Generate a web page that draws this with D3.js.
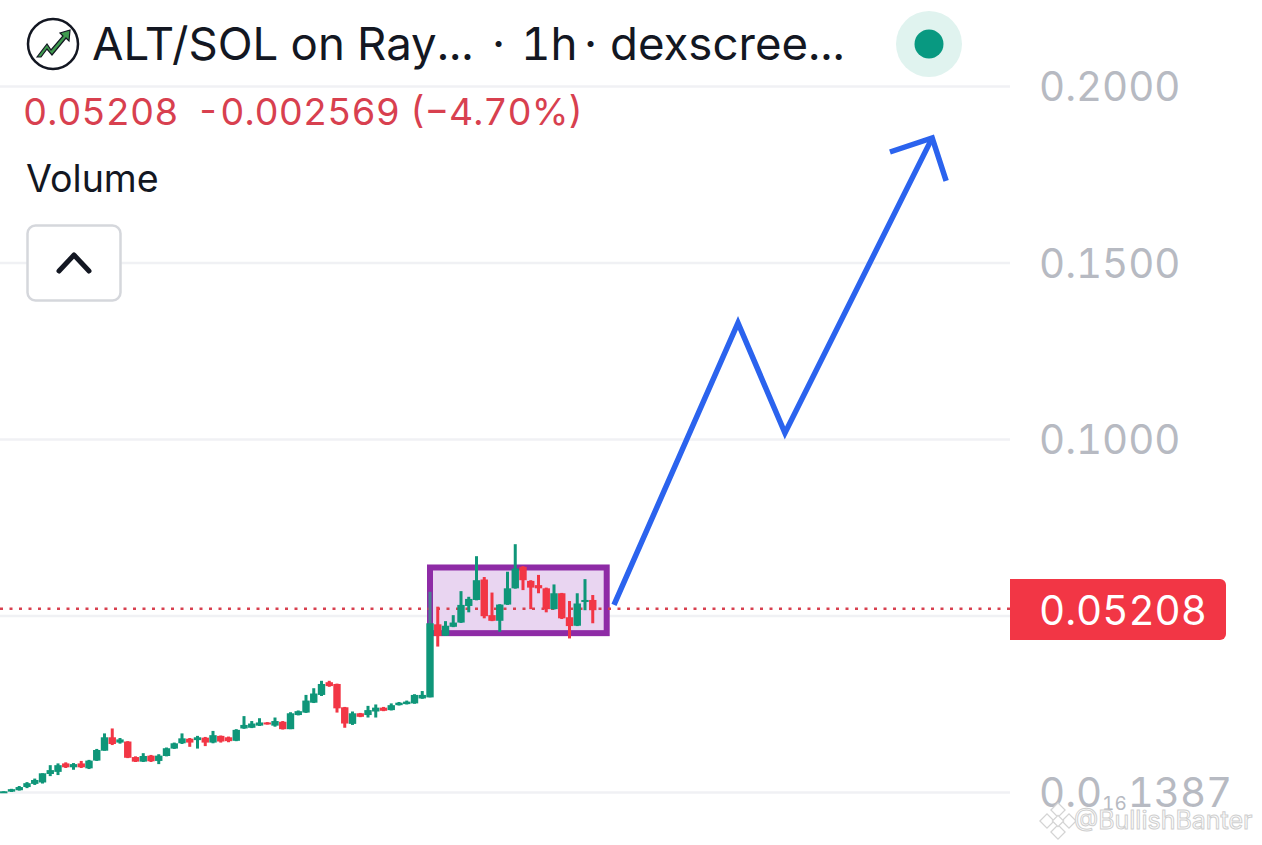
<!DOCTYPE html>
<html>
<head>
<meta charset="utf-8">
<script src="https://cdn.jsdelivr.net/npm/d3@7"></script>
<style>
  html, body { margin: 0; padding: 0; background: #fff; }
  svg { display: block; }
  text { font-family: Inter, "Noto Sans", sans-serif; font-variant-numeric: tabular-nums; }
</style>
</head>
<body>
<svg id="chart"></svg>
<script>
// Candles
const opens = [.0000,.0001,.0005,.0014,.0023,.0027,.0051,.0057,.0081,.0070,.0081,.0067,.0089,.0117,.0155,.0140,.0143,.0099,.0086,.0103,.0088,.0102,.0123,.0138,.0151,.0147,.0154,.0140,.0159,.0155,.0145,.0180,.0182,.0188,.0197,.0188,.0199,.0178,.0218,.0225,.0253,.0275,.0311,.0306,.0240,.0193,.0223,.0218,.0228,.0239,.0232,.0246,.0249,.0251,.0265,.0268,.0475,.0443,.0468,.0480,.0527,.0544,.0602,.0501,.0485,.0531,.0577,.0638,.0598,.0586,.0577,.0518,.0563,.0495,.0471,.0539,.0544];
const closes = [.0002,.0008,.0014,.0025,.0034,.0053,.0062,.0076,.0070,.0079,.0070,.0089,.0119,.0155,.0136,.0149,.0097,.0086,.0102,.0087,.0103,.0124,.0138,.0152,.0140,.0155,.0140,.0161,.0143,.0144,.0176,.0190,.0194,.0197,.0192,.0201,.0178,.0223,.0229,.0259,.0279,.0306,.0300,.0237,.0194,.0223,.0213,.0232,.0239,.0230,.0246,.0253,.0256,.0275,.0275,.0478,.0442,.0471,.0480,.0530,.0547,.0600,.0498,.0485,.0531,.0577,.0633,.0600,.0579,.0577,.0518,.0563,.0492,.0470,.0534,.0544,.0515];
const highs = [.0002,.0009,.0017,.0028,.0038,.0053,.0076,.0081,.0084,.0082,.0088,.0091,.0122,.0166,.0180,.0153,.0144,.0101,.0110,.0105,.0107,.0126,.0140,.0166,.0153,.0159,.0156,.0173,.0160,.0157,.0178,.0215,.0201,.0209,.0198,.0211,.0201,.0226,.0231,.0275,.0294,.0315,.0315,.0307,.0241,.0228,.0224,.0244,.0248,.0241,.0251,.0255,.0259,.0277,.0286,.0567,.0525,.0484,.0501,.0569,.0553,.0668,.0609,.0565,.0532,.0624,.0702,.0640,.0600,.0615,.0579,.0588,.0564,.0541,.0563,.0603,.0558];
const lows = [.0000,.0000,.0004,.0011,.0020,.0024,.0045,.0048,.0068,.0063,.0068,.0065,.0088,.0117,.0133,.0137,.0096,.0085,.0085,.0085,.0079,.0101,.0122,.0136,.0128,.0123,.0130,.0138,.0140,.0141,.0144,.0179,.0181,.0187,.0191,.0185,.0177,.0178,.0217,.0224,.0252,.0272,.0298,.0225,.0182,.0190,.0212,.0211,.0211,.0229,.0231,.0245,.0248,.0250,.0264,.0268,.0412,.0442,.0467,.0479,.0509,.0543,.0492,.0484,.0454,.0530,.0576,.0572,.0518,.0563,.0509,.0517,.0490,.0435,.0470,.0515,.0478];

// Axis
const tickValues = [0, 0.05, 0.1, 0.15, 0.2];
const tickLabels = ['', '', '0.1000', '0.1500', '0.2000'];
const lastPrice = 0.05208;
const lastPriceLabel = '0.05208';

// Annotations: consolidation box and projected path (candle index, price)
const boxIndex = [55, 77.8];
const boxPrice = [0.0450, 0.0636];
const pathIndex = [78.74, 94.74, 100.8, 119.8];
const pathPrice = [0.0530, 0.1329, 0.1017, 0.1853];
const headIndex = [114.35, 119.8, 121.6];
const headPrice = [0.1813, 0.1853, 0.1731];

const width = 1262, height = 845, plotRight = 1010;
const UP = '#0f9679', DOWN = '#f23645';

const svg = d3.select('#chart').attr('width', width).attr('height', height);

const x = d3.scaleLinear().domain([55, 76]).range([430, 592.75]);
const y = d3.scaleLinear().domain([0, 0.2]).range([792, 86]);

// Grid lines and price labels
const axis = d3.axisRight(y)
  .tickValues(tickValues)
  .tickSize(plotRight)
  .tickPadding(29)
  .tickFormat((d, i) => tickLabels[i]);

const axisG = svg.append('g').call(axis);
axisG.select('.domain').remove();
axisG.selectAll('line').attr('stroke', '#f0f1f4').attr('stroke-width', 2.5);
axisG.selectAll('text')
  .attr('fill', '#b7bac2')
  .attr('dy', '0.36em')
  .style('font-size', '40.3px')
  .style('font-family', 'Inter, sans-serif');

// Tick at the bottom has a subscript zero count
const zero = svg.append('text')
  .attr('x', 1039).attr('y', y(0) + 15)
  .attr('fill', '#b7bac2').style('font-size', '40.3px');
zero.append('tspan').text('0.0');
zero.append('tspan').attr('dy', 3).style('font-size', '19px').text('16');
zero.append('tspan').attr('dx', 1).attr('dy', -3).text('1387');

// Box, under the candles
const box = {
  x: x(boxIndex[0]), y: y(boxPrice[1]),
  w: x(boxIndex[1]) - x(boxIndex[0]), h: y(boxPrice[0]) - y(boxPrice[1])
};
svg.append('rect')
  .attr('x', box.x).attr('y', box.y).attr('width', box.w).attr('height', box.h)
  .attr('fill', '#e9d5f1')
  .attr('stroke', '#8e2ba6').attr('stroke-width', 6);

// Last price dotted line
svg.append('line')
  .attr('x1', 0).attr('x2', plotRight)
  .attr('y1', y(lastPrice) + 0.6).attr('y2', y(lastPrice) + 0.6)
  .attr('stroke', '#d8404f').attr('stroke-width', 2.5)
  .attr('stroke-dasharray', '3 6.5');

// Candles
const candles = svg.append('g').selectAll('g')
  .data(opens.map((o, i) => ({ i, o, c: closes[i], h: highs[i], l: lows[i] })))
  .join('g')
  .attr('fill', d => d.c >= d.o ? UP : DOWN);

// the first wick of the spike looks washed out by the box edge
candles.append('rect')
  .attr('x', d => x(d.i) - 1.5)
  .attr('width', 3)
  .attr('y', d => y(d.h))
  .attr('height', d => y(d.l) - y(d.h))
  .attr('fill', d => d.i === 55 ? '#4a7f92' : null);

candles.append('rect')
  .attr('x', d => x(d.i) - 3.7)
  .attr('width', 7.4)
  .attr('y', d => y(Math.max(d.o, d.c)))
  .attr('height', d => Math.max(2, Math.abs(y(d.o) - y(d.c))));

// Projected path
const line = d3.line().x(d => x(d[0])).y(d => y(d[1]));
[[pathIndex, pathPrice], [headIndex, headPrice]].forEach(([xs, ys]) => {
  svg.append('path')
    .attr('d', line(xs.map((v, i) => [v, ys[i]])))
    .attr('fill', 'none')
    .attr('stroke', '#2b63ee').attr('stroke-width', 5.5)
    .attr('stroke-linejoin', 'miter');
});

// Last price tag
svg.append('path')
  .attr('d', `M${plotRight},579 H1220 a6,6 0 0 1 6,6 V634 a6,6 0 0 1 -6,6 H${plotRight} Z`)
  .attr('fill', '#f23645');
svg.append('text')
  .attr('x', 1039).attr('y', 625)
  .attr('fill', '#fff').style('font-size', '40.4px')
  .text(lastPriceLabel);

// Header
svg.append('circle').attr('cx', 53).attr('cy', 44).attr('r', 25)
  .attr('fill', '#fff').attr('stroke', '#131722').attr('stroke-width', 2.5);
svg.append('path')
  .attr('d', 'M37,57 L47,44 L51,50 L63,36 L60,33 L70,30 L69,41 L66,38 L52,55 L47,49 L41,57 Z')
  .attr('fill', '#3f9a4f').attr('stroke', '#131722').attr('stroke-width', 1.2);

svg.append('text').attr('x', 92).attr('y', 60)
  .attr('fill', '#131722').style('font-size', '45.6px').text('ALT/SOL on Ray...');
[['·', 492], ['1h', 521], ['·', 584], ['dexscree...', 610]].forEach(([t, tx]) => {
  svg.append('text').attr('x', tx).attr('y', 60)
    .attr('fill', '#131722').style('font-size', '45.6px').text(t);
});

svg.append('circle').attr('cx', 929).attr('cy', 44).attr('r', 33).attr('fill', '#e0f3ef');
svg.append('circle').attr('cx', 929).attr('cy', 44).attr('r', 14.5).attr('fill', '#089981');

svg.append('text').attr('x', 23).attr('y', 125)
  .attr('fill', '#d8404f').style('font-size', '37.4px').text('0.05208');
svg.append('text').attr('x', 196).attr('y', 125)
  .attr('fill', '#d8404f').style('font-size', '37.4px').text('-0.002569 (−4.70%)');

svg.append('text').attr('x', 26).attr('y', 192)
  .attr('fill', '#131722').style('font-size', '37.6px').text('Volume');

// Collapse button
svg.append('rect')
  .attr('x', 27.5).attr('y', 225.5).attr('width', 93).attr('height', 75).attr('rx', 8)
  .attr('fill', '#fff').attr('stroke', '#d5d7dc').attr('stroke-width', 2.5);
svg.append('path')
  .attr('d', 'M59,271 L74,255 L89,271')
  .attr('fill', 'none').attr('stroke', '#131722')
  .attr('stroke-width', 5).attr('stroke-linecap', 'round').attr('stroke-linejoin', 'round');

// Watermark
const mark = svg.append('g').attr('fill', '#fff').attr('stroke', '#d4d4d4').attr('stroke-width', 1.3);
[[1058, 810, 5], [1047, 821, 5], [1069, 821, 5], [1058, 832, 5], [1058, 821, 4]].forEach(([cx, cy, s]) => {
  mark.append('rect')
    .attr('x', cx - s).attr('y', cy - s).attr('width', 2 * s).attr('height', 2 * s)
    .attr('transform', `rotate(45 ${cx} ${cy})`);
});
svg.append('text').attr('x', 1074).attr('y', 829)
  .attr('fill', '#fff').attr('stroke', '#cfcfcf').attr('stroke-width', 1)
  .style('font-size', '25px').text('@BullishBanter');
</script>
</body>
</html>
